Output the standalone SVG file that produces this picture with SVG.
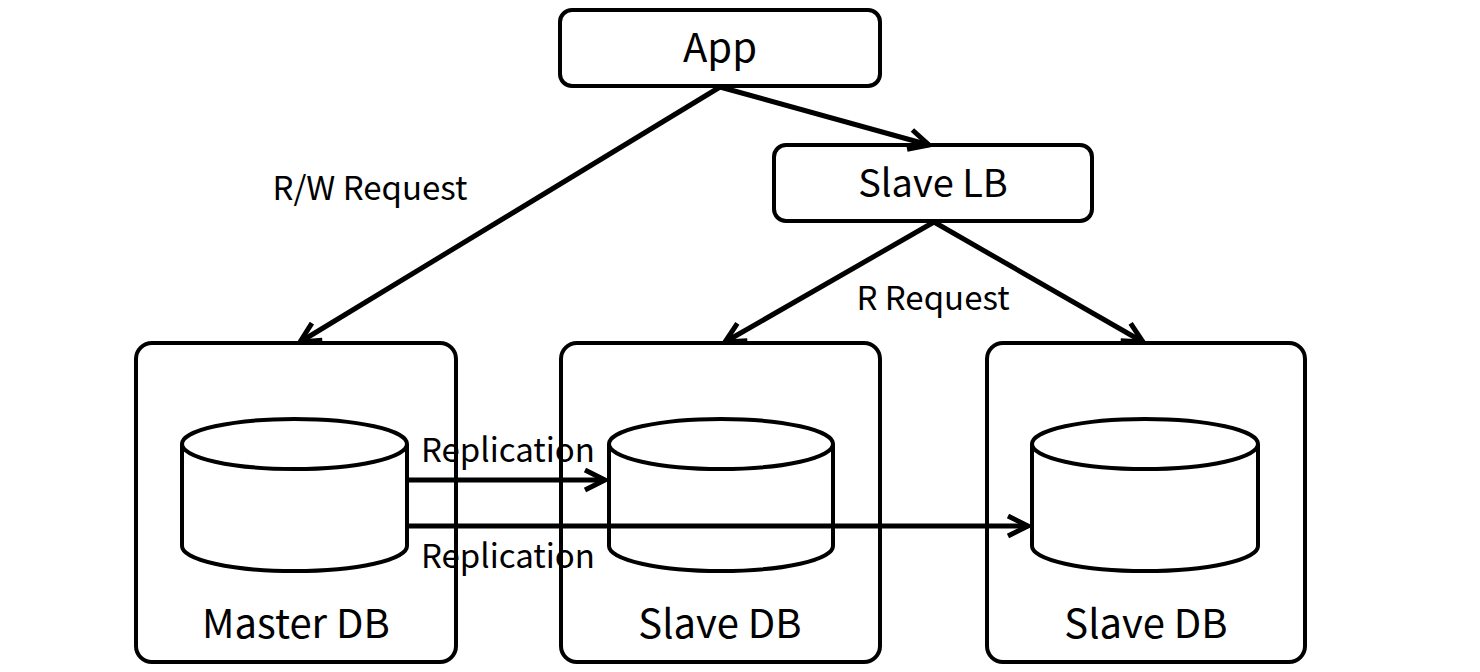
<svg xmlns="http://www.w3.org/2000/svg" width="1480" height="672" viewBox="0 0 1480 672">
<style>
.b{fill:#fff;stroke:#000;stroke-width:4}
.c{fill:#fff;stroke:#000;stroke-width:4}
.t{font-family:"Noto Sans CJK KR","Noto Sans",sans-serif;fill:#000;text-anchor:middle}
.l{stroke:#000;stroke-width:5;fill:none;marker-end:url(#a)}
</style>
<defs><marker id="a" viewBox="0 0 10 10" refX="9" refY="5" markerWidth="5" markerHeight="5" orient="auto" markerUnits="strokeWidth"><path d="M1 1L9 5L1 9" fill="none" stroke="#000" stroke-width="2"/></marker></defs>
<rect width="1480" height="672" fill="#fff"/>
<g id="app"><rect class="b" x="560" y="10" width="320" height="76" rx="12"/><text class="t" x="720" y="62" font-size="40">App</text></g>
<g id="lb"><rect class="b" x="774" y="145" width="318" height="76" rx="12"/><text class="t" x="933" y="197" font-size="38">Slave LB</text></g>
<g id="master"><rect class="b" x="136" y="343" width="320" height="319" rx="16"/>
<path class="c" d="M182 444V546A112 25 0 0 0 407 546V444"/><ellipse class="c" cx="294.5" cy="444" rx="112.5" ry="25"/>
<text class="t" x="296" y="638" font-size="40">Master DB</text></g>
<g id="slave1"><rect class="b" x="561" y="343" width="319" height="319" rx="16"/>
<path class="c" d="M609 444V546A112 25 0 0 0 833 546V444"/><ellipse class="c" cx="721" cy="444" rx="112" ry="25"/>
<text class="t" x="720" y="638" font-size="40">Slave DB</text></g>
<g id="slave2"><rect class="b" x="987" y="343" width="318" height="319" rx="16"/>
<path class="c" d="M1032 444V546A113 25 0 0 0 1258 546V444"/><ellipse class="c" cx="1145" cy="444" rx="113" ry="25"/>
<text class="t" x="1146" y="638" font-size="40">Slave DB</text></g>
<g id="connectors">
<path class="l" d="M720 87L300 342"/>
<path class="l" d="M720 87L929 145"/>
<path class="l" d="M934 222L725 342"/>
<path class="l" d="M934 222L1143 342"/>
<path class="l" d="M408 480H605"/>
<path class="l" d="M408 526H1028"/>
<text class="t" x="370" y="200" font-size="33">R/W Request</text>
<text class="t" x="933" y="310" font-size="33">R Request</text>
<text class="t" x="508" y="462" font-size="33">Replication</text>
<text class="t" x="508" y="568" font-size="33">Replication</text>
</g>
</svg>
